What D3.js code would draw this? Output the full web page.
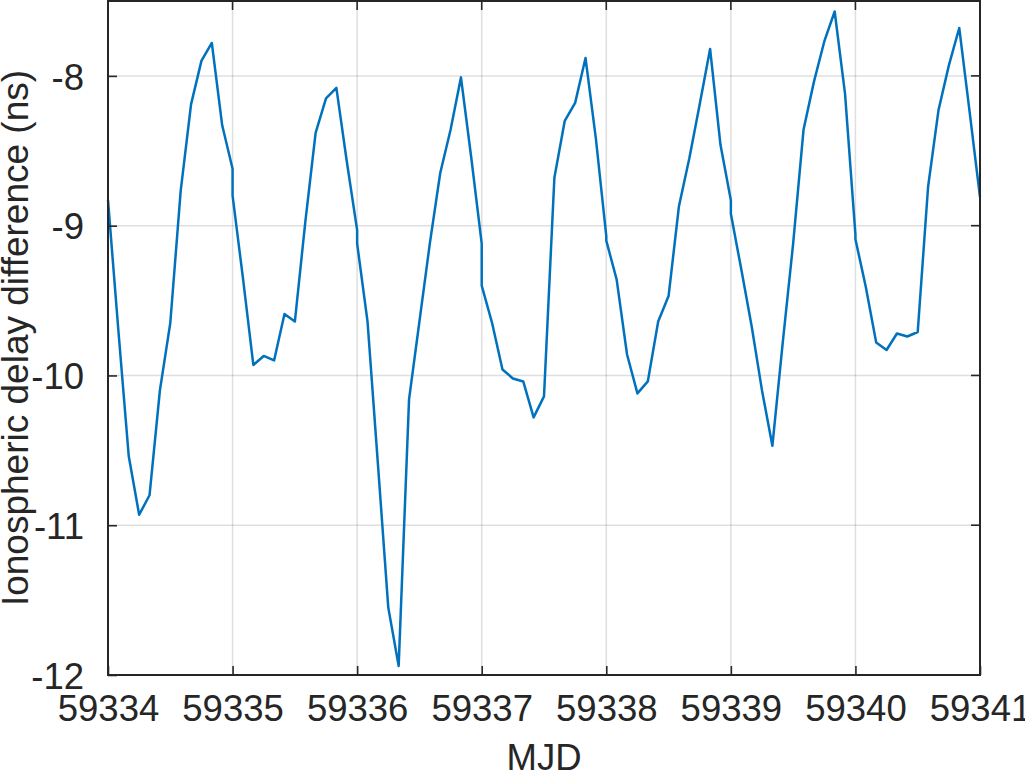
<!DOCTYPE html>
<html>
<head>
<meta charset="utf-8">
<script src="https://cdn.jsdelivr.net/npm/d3@7"></script>
<style>
  html, body { margin: 0; padding: 0; background: #fff; }
  svg text { font-family: "Liberation Sans", Arial, sans-serif; fill: #262626; }
</style>
</head>
<body>
<div id="chart"></div>
<script>
// sample hours within each daily file (each file runs 0h..24h)
const hours = [0, 2, 4, 6, 8, 10, 12, 14, 16, 18, 20, 22, 24];
const days = [59334, 59335, 59336, 59337, 59338, 59339, 59340];

// ionospheric delay difference (ns), one array per day
const delay59334 = [-8.83, -9.70, -10.54, -10.93, -10.80, -10.10, -9.65, -8.77, -8.19, -7.90, -7.78, -8.33, -8.62];
const delay59335 = [-8.80, -9.35, -9.93, -9.87, -9.90, -9.59, -9.64, -8.98, -8.38, -8.15, -8.08, -8.57, -9.03];
const delay59336 = [-9.12, -9.64, -10.59, -11.55, -11.94, -10.16, -9.64, -9.12, -8.65, -8.36, -8.01, -8.55, -9.12];
const delay59337 = [-9.40, -9.65, -9.96, -10.02, -10.04, -10.28, -10.14, -8.68, -8.30, -8.18, -7.88, -8.42, -9.07];
const delay59338 = [-9.10, -9.36, -9.86, -10.12, -10.04, -9.64, -9.47, -8.87, -8.55, -8.19, -7.82, -8.46, -8.83];
const delay59339 = [-8.92, -9.29, -9.67, -10.10, -10.47, -9.78, -9.12, -8.36, -8.04, -7.77, -7.57, -8.12, -9.06];
const delay59340 = [-9.09, -9.41, -9.78, -9.83, -9.72, -9.74, -9.71, -8.74, -8.23, -7.93, -7.68, -8.24, -8.81];

const xTicks = [59334, 59335, 59336, 59337, 59338, 59339, 59340, 59341];
const yTicks = [-12, -11, -10, -9, -8];

const dailyDelays = [delay59334, delay59335, delay59336, delay59337, delay59338, delay59339, delay59340];

// flatten into one series of {mjd, v}
const points = [];
days.forEach((day, di) => {
    dailyDelays[di].forEach((v, hi) => {
        points.push({ mjd: day + hours[hi] / 24, v: v });
    });
});

const W = 1025, H = 772;
const plotLeft = 108, plotRight = 980, plotTop = 1, plotBottom = 675;
const axisColor = '#262626';

const svg = d3.select('#chart')
    .append('svg')
    .attr('width', W)
    .attr('height', H);

const x = d3.scaleLinear().domain([59334, 59341]).range([plotLeft, plotRight]);
const y = d3.scaleLinear().domain([-12, -7.5]).range([plotBottom, plotTop]);

// grid
svg.append('g')
    .selectAll('line')
    .data(xTicks)
    .join('line')
    .attr('x1', d => x(d)).attr('x2', d => x(d))
    .attr('y1', plotTop).attr('y2', plotBottom)
    .attr('stroke', axisColor).attr('stroke-opacity', 0.15).attr('stroke-width', 1.5);

svg.append('g')
    .selectAll('line')
    .data(yTicks)
    .join('line')
    .attr('x1', plotLeft).attr('x2', plotRight)
    .attr('y1', d => y(d)).attr('y2', d => y(d))
    .attr('stroke', axisColor).attr('stroke-opacity', 0.15).attr('stroke-width', 1.5);

// data line
const line = d3.line()
    .x(d => x(d.mjd))
    .y(d => y(d.v));

svg.append('path')
    .datum(points)
    .attr('fill', 'none')
    .attr('stroke', '#0072BD')
    .attr('stroke-width', 2.5)
    .attr('stroke-linejoin', 'round')
    .attr('d', line);

// axes (MATLAB style: ticks inside, box on)
const tickLen = 9;
const xAxis = d3.axisBottom(x).tickValues(xTicks).tickFormat(d3.format('d')).tickSizeInner(-tickLen).tickSizeOuter(0).tickPadding(22);
const yAxis = d3.axisLeft(y).tickValues(yTicks).tickFormat(d => String(d)).tickSizeInner(-tickLen).tickSizeOuter(0).tickPadding(24);

const gx = svg.append('g').attr('transform', `translate(0,${plotBottom})`).call(xAxis);
const gy = svg.append('g').attr('transform', `translate(${plotLeft},0)`).call(yAxis);

[gx, gy].forEach(g => {
    g.selectAll('.domain').remove();
    g.selectAll('line').attr('stroke', axisColor).attr('stroke-width', 1.6);
    g.selectAll('text')
        .style('font-size', '36.5px')
        .attr('fill', axisColor);
});
gx.selectAll('text').attr('dy', null).attr('y', 46);
gy.selectAll('text').attr('dy', '0.36em');

// top and right ticks
svg.append('g')
    .selectAll('line')
    .data(xTicks)
    .join('line')
    .attr('x1', d => x(d)).attr('x2', d => x(d))
    .attr('y1', plotTop).attr('y2', plotTop + tickLen)
    .attr('stroke', axisColor).attr('stroke-width', 1.6);
svg.append('g')
    .selectAll('line')
    .data(yTicks)
    .join('line')
    .attr('x1', plotRight).attr('x2', plotRight - tickLen)
    .attr('y1', d => y(d)).attr('y2', d => y(d))
    .attr('stroke', axisColor).attr('stroke-width', 1.6);

// box
svg.append('rect')
    .attr('x', plotLeft).attr('y', plotTop)
    .attr('width', plotRight - plotLeft).attr('height', plotBottom - plotTop)
    .attr('fill', 'none')
    .attr('stroke', axisColor)
    .attr('stroke-width', 2);

// axis labels
svg.append('text')
    .attr('x', (plotLeft + plotRight) / 2)
    .attr('y', 770)
    .attr('text-anchor', 'middle')
    .style('font-size', '36.5px')
    .text('MJD');

svg.append('text')
    .attr('transform', `translate(28,338) rotate(-90)`)
    .attr('text-anchor', 'middle')
    .style('font-size', '37px')
    .text('Ionospheric delay difference (ns)');
</script>
</body>
</html>
